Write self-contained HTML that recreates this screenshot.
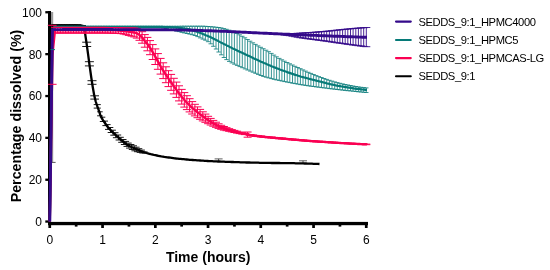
<!DOCTYPE html>
<html><head><meta charset="utf-8"><style>html,body{margin:0;padding:0;background:#fff;}svg{display:block;}</style></head><body>
<svg width="550" height="270" viewBox="0 0 550 270">
<rect width="550" height="270" fill="#fff"/>
<g fill="#000">
<rect x="48" y="11" width="3" height="214"/>
<rect x="48" y="221.9" width="320" height="3.3"/>
<rect x="45.3" y="220.4" width="3" height="2.3"/>
<rect x="45.3" y="178.6" width="3" height="2.3"/>
<rect x="45.3" y="136.7" width="3" height="2.3"/>
<rect x="45.3" y="94.9" width="3" height="2.3"/>
<rect x="45.3" y="53" width="3" height="2.3"/>
<rect x="45.3" y="11.1" width="3" height="2.3"/>
<rect x="48.4" y="224.6" width="2.7" height="3.4"/>
<rect x="74.8" y="224.6" width="2.7" height="2.0"/>
<rect x="101.2" y="224.6" width="2.7" height="3.4"/>
<rect x="127.6" y="224.6" width="2.7" height="2.0"/>
<rect x="154" y="224.6" width="2.7" height="3.4"/>
<rect x="180.3" y="224.6" width="2.7" height="2.0"/>
<rect x="206.7" y="224.6" width="2.7" height="3.4"/>
<rect x="233.1" y="224.6" width="2.7" height="2.0"/>
<rect x="259.4" y="224.6" width="2.7" height="3.4"/>
<rect x="285.8" y="224.6" width="2.7" height="2.0"/>
<rect x="312.2" y="224.6" width="2.7" height="3.4"/>
<rect x="338.6" y="224.6" width="2.7" height="2.0"/>
<rect x="364.9" y="224.6" width="2.7" height="3.4"/>
</g>
<path d="M52.1 12V162.4" stroke="#9a9a9a" stroke-width="2.2"/><path d="M50.2 162.4H55.6" stroke="#555" stroke-width="1"/>
<path d="M52.4 25.1V25.7M47.9 25.1H56.9M47.9 25.7H56.9M55.1 25.1V25.7M50.6 25.1H59.6M50.6 25.7H59.6M57.7 25.1V25.7M53.2 25.1H62.2M53.2 25.7H62.2M60.3 25.1V25.7M55.8 25.1H64.8M55.8 25.7H64.8M63 25.1V25.7M58.5 25.1H67.5M58.5 25.7H67.5M65.6 25.1V25.7M61.1 25.1H70.1M61.1 25.7H70.1M68.3 25.1V25.7M63.8 25.1H72.8M63.8 25.7H72.8M70.9 25.1V25.7M66.4 25.1H75.4M66.4 25.7H75.4M73.5 25.1V25.7M69 25.1H78M69 25.7H78M76.2 25.1V25.7M71.7 25.1H80.7M71.7 25.7H80.7M78.8 25.1V25.7M74.3 25.1H83.3M74.3 25.7H83.3M81.5 25.5V26.1M77 25.5H86M77 26.1H86M84.1 28.9V29.6M79.6 28.9H88.6M79.6 29.6H88.6M86.7 42.2V46.5M82.2 42.2H91.2M82.2 46.5H91.2M89.4 61.7V65.9M84.9 61.7H93.9M84.9 65.9H93.9M92 80.7V84.3M87.5 80.7H96.5M87.5 84.3H96.5M94.6 95.8V99.1M90.3 95.8H99M90.3 99.1H99M97.3 104.6V108.1M93.7 104.6H100.8M93.7 108.1H100.8M99.9 111.8V115.8M97.1 111.8H102.7M97.1 115.8H102.7M102.5 117.2V121.5M99.8 117.2H105.3M99.8 121.5H105.3M105.2 121.1V125.6M102.4 121.1H108M102.4 125.6H108M107.8 124.6V129.4M105 124.6H110.6M105 129.4H110.6M110.5 127.5V132.5M107.7 127.5H113.3M107.7 132.5H113.3M113.1 130.2V135.2M110.3 130.2H115.9M110.3 135.2H115.9M115.7 132.7V137.7M112.9 132.7H118.5M112.9 137.7H118.5M118.4 135V140M115.6 135H121.2M115.6 140H121.2M121 137.3V142.3M118.2 137.3H123.8M118.2 142.3H123.8M123.7 139.5V144.5M120.9 139.5H126.5M120.9 144.5H126.5M126.3 141.4V146.4M123.5 141.4H129.1M123.5 146.4H129.1M128.9 143.1V148.1M126.1 143.1H131.7M126.1 148.1H131.7M131.6 144.5V149.5M128.8 144.5H134.4M128.8 149.5H134.4M134.2 145.8V150.8M131.4 145.8H137M131.4 150.8H137M136.8 147.2V151.7M134 147.2H139.6M134 151.7H139.6M139.5 148.7V152.4M136.7 148.7H142.3M136.7 152.4H142.3M142.1 150.1V153M139.3 150.1H144.9M139.3 153H144.9M144.8 151.9V153M141.9 151.9H147.6M141.9 153H147.6" stroke="#000" stroke-width="0.9" fill="none"/>
<path d="M218.6 158.9V161.5M214.6 158.9H222.6M303 160.8V163.4M299 160.8H307" stroke="#000" stroke-width="0.9" opacity="0.7" fill="none"/>
<path d="M49.8 221.6 L52.4 25.4 L53.9 25.4 L55.4 25.4 L56.9 25.4 L58.4 25.4 L59.9 25.4 L61.4 25.4 L62.8 25.4 L64.3 25.4 L65.8 25.4 L67.3 25.4 L68.8 25.4 L70.3 25.4 L71.8 25.4 L73.3 25.4 L74.8 25.4 L76.3 25.4 L77.8 25.4 L79.3 25.4 L80.8 25.5 L82.2 26.2 L83.7 28.2 L85.2 34 L86.7 44.3 L88.2 55.1 L89.7 66.3 L91.2 77 L92.7 86.7 L94.2 95.3 L95.7 101.5 L97.2 106 L98.7 110.2 L100.1 114.4 L101.6 117.8 L103.1 120.3 L104.6 122.5 L106.1 124.7 L107.6 126.7 L109.1 128.5 L110.6 130.1 L112.1 131.7 L113.6 133.1 L115.1 134.5 L116.6 135.9 L118.1 137.2 L119.5 138.5 L121 139.9 L122.5 141.1 L124 142.3 L125.5 143.4 L127 144.4 L128.5 145.3 L130 146.2 L131.5 147 L133 147.7 L134.5 148.4 L136 149.1 L137.5 149.7 L138.9 150.3 L140.4 150.9 L141.9 151.5 L143.4 152 L144.9 152.5 L146.4 153 L147.9 153.4 L149.4 153.8 L150.9 154.2 L152.4 154.5 L153.9 154.9 L155.4 155.2 L156.9 155.5 L158.3 155.8 L159.8 156.1 L161.3 156.4 L162.8 156.6 L164.3 156.9 L165.8 157.1 L167.3 157.3 L168.8 157.5 L170.3 157.7 L171.8 157.9 L173.3 158.1 L174.8 158.3 L176.3 158.5 L177.7 158.6 L179.2 158.8 L180.7 158.9 L182.2 159.1 L183.7 159.2 L185.2 159.4 L186.7 159.5 L188.2 159.6 L189.7 159.8 L191.2 159.9 L192.7 160 L194.2 160.1 L195.6 160.2 L197.1 160.3 L198.6 160.4 L200.1 160.5 L201.6 160.6 L203.1 160.7 L204.6 160.8 L206.1 160.9 L207.6 161 L209.1 161.1 L210.6 161.1 L212.1 161.2 L213.6 161.3 L215 161.4 L216.5 161.4 L218 161.5 L219.5 161.5 L221 161.6 L222.5 161.7 L224 161.7 L225.5 161.8 L227 161.8 L228.5 161.9 L230 161.9 L231.5 162 L233 162 L234.4 162.1 L235.9 162.1 L237.4 162.2 L238.9 162.2 L240.4 162.3 L241.9 162.3 L243.4 162.4 L244.9 162.4 L246.4 162.5 L247.9 162.5 L249.4 162.5 L250.9 162.6 L252.4 162.6 L253.8 162.6 L255.3 162.7 L256.8 162.7 L258.3 162.7 L259.8 162.8 L261.3 162.8 L262.8 162.8 L264.3 162.9 L265.8 162.9 L267.3 162.9 L268.8 162.9 L270.3 162.9 L271.8 163 L273.2 163 L274.7 163 L276.2 163 L277.7 163 L279.2 163 L280.7 163.1 L282.2 163.1 L283.7 163.1 L285.2 163.1 L286.7 163.1 L288.2 163.1 L289.7 163.2 L291.1 163.2 L292.6 163.2 L294.1 163.2 L295.6 163.3 L297.1 163.3 L298.6 163.3 L300.1 163.4 L301.6 163.4 L303.1 163.4 L304.6 163.5 L306.1 163.5 L307.6 163.6 L309.1 163.6 L310.5 163.7 L312 163.7 L313.5 163.8 L315 163.8 L316.5 163.9 L318 163.9 L319.5 164" stroke="#000" stroke-width="2.3" fill="none" stroke-linejoin="round"/>
<path d="M55.1 26.3V27.5M52.9 26.3H57.3M52.9 27.5H57.3M57.7 26.3V27.5M55.5 26.3H59.9M55.5 27.5H59.9M60.3 26.3V27.5M58.1 26.3H62.5M58.1 27.5H62.5M63 26.3V27.5M60.8 26.3H65.2M60.8 27.5H65.2M65.6 26.3V27.5M63.4 26.3H67.8M63.4 27.5H67.8M68.3 26.3V27.5M66.1 26.3H70.5M66.1 27.5H70.5M70.9 26.3V27.5M68.7 26.3H73.1M68.7 27.5H73.1M73.5 26.3V27.5M71.3 26.3H75.7M71.3 27.5H75.7M76.2 26.3V27.5M74 26.3H78.4M74 27.5H78.4M78.8 26.3V27.5M76.6 26.3H81M76.6 27.5H81M81.5 26.3V27.5M79.2 26.3H83.7M79.2 27.5H83.7M84.1 26.3V27.5M81.9 26.3H86.3M81.9 27.5H86.3M86.7 26.3V27.5M84.5 26.3H88.9M84.5 27.5H88.9M89.4 26.3V27.5M87.2 26.3H91.6M87.2 27.5H91.6M92 26.3V27.5M89.8 26.3H94.2M89.8 27.5H94.2M94.6 26.3V27.5M92.4 26.3H96.8M92.4 27.5H96.8M97.3 26.3V27.5M95.1 26.3H99.5M95.1 27.5H99.5M99.9 26.3V27.5M97.7 26.3H102.1M97.7 27.5H102.1M102.5 26.3V27.5M100.3 26.3H104.8M100.3 27.5H104.8M105.2 26.3V27.5M103 26.3H107.4M103 27.5H107.4M107.8 26.3V27.5M105.6 26.3H110M105.6 27.5H110M110.5 26.3V27.5M108.3 26.3H112.7M108.3 27.5H112.7M113.1 26.3V27.5M110.9 26.3H115.3M110.9 27.5H115.3M115.7 26.3V27.5M113.5 26.3H117.9M113.5 27.5H117.9M118.4 26.3V27.5M116.2 26.3H120.6M116.2 27.5H120.6M121 26.3V27.5M118.8 26.3H123.2M118.8 27.5H123.2M123.7 26.3V27.5M121.5 26.3H125.9M121.5 27.5H125.9M126.3 26.3V27.5M124.1 26.3H128.5M124.1 27.5H128.5M128.9 26.3V27.5M126.7 26.3H131.1M126.7 27.5H131.1M131.6 26.3V27.5M129.4 26.3H133.8M129.4 27.5H133.8M134.2 26.3V27.5M132 26.3H136.4M132 27.5H136.4M136.8 26.3V27.6M134.6 26.3H139M134.6 27.6H139M139.5 26.3V27.6M137.3 26.3H141.7M137.3 27.6H141.7M142.1 26.3V27.6M139.9 26.3H144.3M139.9 27.6H144.3M144.8 26.3V27.6M142.6 26.3H146.9M142.6 27.6H146.9M147.4 26.3V27.6M145.2 26.3H149.6M145.2 27.6H149.6M150 26.3V27.6M147.8 26.3H152.2M147.8 27.6H152.2M152.7 26.3V27.6M150.5 26.3H154.9M150.5 27.6H154.9M155.3 26.3V27.6M153.1 26.3H157.5M153.1 27.6H157.5M157.9 26.3V27.6M155.7 26.3H160.1M155.7 27.6H160.1M160.6 26.3V27.6M158.4 26.3H162.8M158.4 27.6H162.8M163.2 26.3V27.9M161 26.3H165.4M161 27.9H165.4M165.9 26.3V28.5M163.7 26.3H168.1M163.7 28.5H168.1M168.5 26.3V29.2M166.3 26.3H170.7M166.3 29.2H170.7M171.1 26.3V29.7M168.9 26.3H173.3M168.9 29.7H173.3M173.8 26.3V30.3M171.6 26.3H176M171.6 30.3H176M176.4 26.3V31M174.2 26.3H178.6M174.2 31H178.6M179 26.3V31.6M176.8 26.3H181.2M176.8 31.6H181.2M181.7 26.2V32.3M179.5 26.2H183.9M179.5 32.3H183.9M184.3 26.2V32.9M182.1 26.2H186.5M182.1 32.9H186.5M186.9 26.2V33.5M184.8 26.2H189.1M184.8 33.5H189.1M189.6 26.2V34.1M187.4 26.2H191.8M187.4 34.1H191.8M192.2 26.2V34.7M190 26.2H194.4M190 34.7H194.4M194.9 26.2V35.5M192.7 26.2H197.1M192.7 35.5H197.1M197.5 26.2V36.6M195.3 26.2H199.7M195.3 36.6H199.7M200.1 26.2V37.9M197.9 26.2H202.3M197.9 37.9H202.3M202.8 26.2V39.1M200.6 26.2H205M200.6 39.1H205M205.4 26.3V40.2M203.2 26.3H207.6M203.2 40.2H207.6M208.1 26.5V41.7M205.9 26.5H210.2M205.9 41.7H210.2M210.7 26.7V43.8M208.5 26.7H212.9M208.5 43.8H212.9M213.3 26.9V46.3M211.1 26.9H215.5M211.1 46.3H215.5M216 27.2V49M213.8 27.2H218.2M213.8 49H218.2M218.6 27.5V52M216.4 27.5H220.8M216.4 52H220.8M221.2 27.9V54.8M219 27.9H223.4M219 54.8H223.4M223.9 28.6V57.5M221.7 28.6H226.1M221.7 57.5H226.1M226.5 29.3V59.6M224.3 29.3H228.7M224.3 59.6H228.7M229.2 30.2V61.4M227 30.2H231.4M227 61.4H231.4M231.8 31.2V62.9M229.6 31.2H234M229.6 62.9H234M234.4 32.3V64.2M232.2 32.3H236.6M232.2 64.2H236.6M237.1 33.5V65.4M234.9 33.5H239.3M234.9 65.4H239.3M239.7 34.8V66.6M237.5 34.8H241.9M237.5 66.6H241.9M242.3 36.3V67.7M240.1 36.3H244.5M240.1 67.7H244.5M245 37.8V68.9M242.8 37.8H247.2M242.8 68.9H247.2M247.6 39.5V70M245.4 39.5H249.8M245.4 70H249.8M250.2 41.2V71.1M248.1 41.2H252.4M248.1 71.1H252.4M252.9 42.8V72.2M250.7 42.8H255.1M250.7 72.2H255.1M255.5 44.4V73.3M253.3 44.4H257.7M253.3 73.3H257.7M258.2 45.9V74.4M256 45.9H260.4M256 74.4H260.4M260.8 47.3V75.5M258.6 47.3H263M258.6 75.5H263M263.4 48.7V76.4M261.2 48.7H265.6M261.2 76.4H265.6M266.1 50.2V77.2M263.9 50.2H268.3M263.9 77.2H268.3M268.7 51.7V77.9M266.5 51.7H270.9M266.5 77.9H270.9M271.4 53.4V78.6M269.2 53.4H273.6M269.2 78.6H273.6M274 55.1V79.3M271.8 55.1H276.2M271.8 79.3H276.2M276.6 56.8V79.9M274.4 56.8H278.8M274.4 79.9H278.8M279.3 58.4V80.4M277.1 58.4H281.5M277.1 80.4H281.5M281.9 59.8V81M279.7 59.8H284.1M279.7 81H284.1M284.5 61.2V81.6M282.3 61.2H286.7M282.3 81.6H286.7M287.2 62.5V82.1M285 62.5H289.4M285 82.1H289.4M289.8 63.8V82.6M287.6 63.8H292M287.6 82.6H292M292.5 65V83.2M290.3 65H294.7M290.3 83.2H294.7M295.1 66.3V83.6M292.9 66.3H297.3M292.9 83.6H297.3M297.7 67.5V84.1M295.5 67.5H299.9M295.5 84.1H299.9M300.4 68.7V84.6M298.2 68.7H302.6M298.2 84.6H302.6M303 69.9V85M300.8 69.9H305.2M300.8 85H305.2M305.6 71.1V85.4M303.4 71.1H307.8M303.4 85.4H307.8M308.3 72.3V85.8M306.1 72.3H310.5M306.1 85.8H310.5M310.9 73.4V86.2M308.7 73.4H313.1M308.7 86.2H313.1M313.6 74.5V86.5M311.4 74.5H315.8M311.4 86.5H315.8M316.2 75.6V86.9M314 75.6H318.4M314 86.9H318.4M318.8 76.6V87.2M316.6 76.6H321M316.6 87.2H321M321.5 77.5V87.6M319.3 77.5H323.7M319.3 87.6H323.7M324.1 78.5V87.9M321.9 78.5H326.3M321.9 87.9H326.3M326.7 79.4V88.2M324.5 79.4H328.9M324.5 88.2H328.9M329.4 80.3V88.6M327.2 80.3H331.6M327.2 88.6H331.6M332 81.1V88.9M329.8 81.1H334.2M329.8 88.9H334.2M334.7 81.9V89.2M332.5 81.9H336.9M332.5 89.2H336.9M337.3 82.6V89.5M335.1 82.6H339.5M335.1 89.5H339.5M339.9 83.3V89.8M337.7 83.3H342.1M337.7 89.8H342.1M342.6 83.9V90.1M340.4 83.9H344.8M340.4 90.1H344.8M345.2 84.5V90.4M343 84.5H347.4M343 90.4H347.4M347.8 85V90.7M345.6 85H350M345.6 90.7H350M350.5 85.5V90.9M348.3 85.5H352.7M348.3 90.9H352.7M353.1 86V91.2M350.9 86H355.3M350.9 91.2H355.3M355.8 86.5V91.5M353.6 86.5H358M353.6 91.5H358M358.4 86.9V91.8M356.2 86.9H360.6M356.2 91.8H360.6M361 87.3V92M358.8 87.3H363.2M358.8 92H363.2M363.7 87.6V92.3M361.5 87.6H365.9M361.5 92.3H365.9M366.3 87.9V92.5M364.1 87.9H368.5M364.1 92.5H368.5" stroke="#067a78" stroke-width="0.8" fill="none"/>
<path d="M49.8 221.6 L52.4 38 L55 26.9 L56.5 26.9 L58 26.9 L59.5 26.9 L61 26.9 L62.5 26.9 L64 26.9 L65.4 26.9 L66.9 26.9 L68.4 26.9 L69.9 26.9 L71.4 26.9 L72.9 26.9 L74.4 26.9 L75.9 26.9 L77.4 26.9 L78.9 26.9 L80.4 26.9 L81.9 26.9 L83.4 26.9 L84.9 26.9 L86.3 26.9 L87.8 26.9 L89.3 26.9 L90.8 26.9 L92.3 26.9 L93.8 26.9 L95.3 26.9 L96.8 26.9 L98.3 26.9 L99.8 26.9 L101.3 26.9 L102.8 26.9 L104.3 26.9 L105.8 26.9 L107.2 26.9 L108.7 26.9 L110.2 26.9 L111.7 26.9 L113.2 26.9 L114.7 26.9 L116.2 26.9 L117.7 26.9 L119.2 26.9 L120.7 26.9 L122.2 26.9 L123.7 26.9 L125.2 26.9 L126.7 26.9 L128.1 26.9 L129.6 26.9 L131.1 26.9 L132.6 26.9 L134.1 26.9 L135.6 26.9 L137.1 26.9 L138.6 26.9 L140.1 26.9 L141.6 26.9 L143.1 26.9 L144.6 26.9 L146.1 26.9 L147.6 26.9 L149 26.9 L150.5 26.9 L152 26.9 L153.5 26.9 L155 26.9 L156.5 26.9 L158 26.9 L159.5 26.9 L161 26.9 L162.5 26.9 L164 27 L165.5 27 L167 27.1 L168.5 27.1 L169.9 27.2 L171.4 27.3 L172.9 27.4 L174.4 27.5 L175.9 27.6 L177.4 27.7 L178.9 27.8 L180.4 28 L181.9 28.2 L183.4 28.4 L184.9 28.6 L186.4 28.8 L187.9 29.1 L189.4 29.4 L190.8 29.7 L192.3 30.1 L193.8 30.6 L195.3 31.1 L196.8 31.7 L198.3 32.2 L199.8 32.8 L201.3 33.3 L202.8 33.9 L204.3 34.5 L205.8 35.2 L207.3 35.8 L208.8 36.4 L210.3 37.1 L211.7 37.8 L213.2 38.5 L214.7 39.3 L216.2 40.1 L217.7 40.8 L219.2 41.6 L220.7 42.4 L222.2 43.1 L223.7 43.9 L225.2 44.6 L226.7 45.4 L228.2 46.1 L229.7 46.9 L231.2 47.6 L232.6 48.4 L234.1 49.1 L235.6 49.8 L237.1 50.5 L238.6 51.2 L240.1 51.9 L241.6 52.6 L243.1 53.3 L244.6 54 L246.1 54.7 L247.6 55.4 L249.1 56.1 L250.6 56.8 L252.1 57.5 L253.5 58.2 L255 58.9 L256.5 59.6 L258 60.3 L259.5 61 L261 61.7 L262.5 62.3 L264 63 L265.5 63.6 L267 64.3 L268.5 64.9 L270 65.5 L271.5 66.2 L273 66.8 L274.4 67.4 L275.9 67.9 L277.4 68.5 L278.9 69.1 L280.4 69.7 L281.9 70.2 L283.4 70.8 L284.9 71.3 L286.4 71.8 L287.9 72.4 L289.4 72.9 L290.9 73.4 L292.4 73.9 L293.9 74.4 L295.3 74.9 L296.8 75.3 L298.3 75.8 L299.8 76.2 L301.3 76.7 L302.8 77.1 L304.3 77.5 L305.8 77.9 L307.3 78.3 L308.8 78.7 L310.3 79.1 L311.8 79.5 L313.3 79.9 L314.8 80.2 L316.2 80.6 L317.7 81 L319.2 81.4 L320.7 81.7 L322.2 82.1 L323.7 82.5 L325.2 82.9 L326.7 83.3 L328.2 83.6 L329.7 84 L331.2 84.4 L332.7 84.7 L334.2 85 L335.7 85.4 L337.1 85.7 L338.6 86 L340.1 86.2 L341.6 86.5 L343.1 86.7 L344.6 87 L346.1 87.2 L347.6 87.5 L349.1 87.7 L350.6 87.9 L352.1 88.1 L353.6 88.4 L355.1 88.6 L356.6 88.8 L358 89 L359.5 89.1 L361 89.3 L362.5 89.5 L364 89.6 L365.5 89.8 L367 89.9" stroke="#067a78" stroke-width="2.2" fill="none" stroke-linejoin="round"/>
<path d="M55.1 27.4V33M51.1 27.4H59.1M51.1 33H59.1M57.7 27.4V33M53.7 27.4H61.7M53.7 33H61.7M60.3 27.4V33M56.3 27.4H64.3M56.3 33H64.3M63 27.4V33M59 27.4H67M59 33H67M65.6 27.4V33M61.6 27.4H69.6M61.6 33H69.6M68.3 27.4V33M64.3 27.4H72.3M64.3 33H72.3M70.9 27.4V33M66.9 27.4H74.9M66.9 33H74.9M73.5 27.4V33M69.5 27.4H77.5M69.5 33H77.5M76.2 27.4V33M72.2 27.4H80.2M72.2 33H80.2M78.8 27.4V33M74.8 27.4H82.8M74.8 33H82.8M81.5 27.4V33M77.5 27.4H85.5M77.5 33H85.5M84.1 27.4V33M80.1 27.4H88.1M80.1 33H88.1M86.7 27.4V33M82.7 27.4H90.7M82.7 33H90.7M89.4 27.4V33M85.4 27.4H93.4M85.4 33H93.4M92 27.4V33M88 27.4H96M88 33H96M94.6 27.4V33M90.6 27.4H98.6M90.6 33H98.6M97.3 27.4V33M93.3 27.4H101.3M93.3 33H101.3M99.9 27.4V33M95.9 27.4H103.9M95.9 33H103.9M102.5 27.4V33M98.5 27.4H106.5M98.5 33H106.5M105.2 27.4V33M101.2 27.4H109.2M101.2 33H109.2M107.8 27.5V33.1M103.8 27.5H111.8M103.8 33.1H111.8M110.5 27.5V33.1M106.5 27.5H114.5M106.5 33.1H114.5M113.1 27.6V33.2M109.1 27.6H117.1M109.1 33.2H117.1M115.7 27.6V33.2M111.7 27.6H119.7M111.7 33.2H119.7M118.4 27.7V33.3M114.4 27.7H122.4M114.4 33.3H122.4M121 27.8V33.6M117 27.8H125M117 33.6H125M123.7 28V34M119.7 28H127.7M119.7 34H127.7M126.3 28.1V34.7M122.3 28.1H130.3M122.3 34.7H130.3M128.9 28.1V35.4M124.9 28.1H132.9M124.9 35.4H132.9M131.6 28V36.1M127.6 28H135.6M127.6 36.1H135.6M134.2 28V36.9M130.2 28H138.2M130.2 36.9H138.2M136.8 28.4V38.1M132.8 28.4H140.8M132.8 38.1H140.8M139.5 29.7V40.3M135.5 29.7H143.5M135.5 40.3H143.5M142.1 31.7V43.2M138.1 31.7H146.1M138.1 43.2H146.1M144.8 34.6V47.2M140.8 34.6H148.8M140.8 47.2H148.8M147.4 37.4V50.8M143.4 37.4H151.4M143.4 50.8H151.4M150 40.6V54.7M146 40.6H154M146 54.7H154M152.7 44.6V59.5M148.7 44.6H156.7M148.7 59.5H156.7M155.3 48.9V64.5M151.3 48.9H159.3M151.3 64.5H159.3M157.9 53.6V69.3M153.9 53.6H161.9M153.9 69.3H161.9M160.6 58.4V74.1M156.6 58.4H164.6M156.6 74.1H164.6M163.2 62.8V78.6M159.2 62.8H167.2M159.2 78.6H167.2M165.9 66.8V82.7M161.9 66.8H169.9M161.9 82.7H169.9M168.5 70.7V86.6M164.5 70.7H172.5M164.5 86.6H172.5M171.1 74.4V90.3M167.1 74.4H175.1M167.1 90.3H175.1M173.8 78.3V93.9M169.8 78.3H177.8M169.8 93.9H177.8M176.4 82.1V97.4M172.4 82.1H180.4M172.4 97.4H180.4M179 85.8V100.9M175 85.8H183M175 100.9H183M181.7 89.4V104.1M177.7 89.4H185.7M177.7 104.1H185.7M184.3 92.6V107.1M180.3 92.6H188.3M180.3 107.1H188.3M186.9 95.7V109.6M182.9 95.7H190.9M182.9 109.6H190.9M189.6 98.7V111.9M185.6 98.7H193.6M185.6 111.9H193.6M192.2 101.6V114M188.2 101.6H196.2M188.2 114H196.2M194.9 104.3V115.9M190.9 104.3H198.9M190.9 115.9H198.9M197.5 106.9V117.7M193.5 106.9H201.5M193.5 117.7H201.5M200.1 109.4V119.3M196.1 109.4H204.1M196.1 119.3H204.1M202.8 111.8V120.9M198.8 111.8H206.8M198.8 120.9H206.8M205.4 114.1V122.3M201.4 114.1H209.4M201.4 122.3H209.4M208.1 116.3V123.7M204.1 116.3H212.1M204.1 123.7H212.1M210.7 118.4V125M206.7 118.4H214.7M206.7 125H214.7M213.3 120.4V126.2M209.3 120.4H217.3M209.3 126.2H217.3M216 122.2V127.3M212 122.2H220M212 127.3H220M218.6 123.8V128.4M214.6 123.8H222.6M214.6 128.4H222.6M221.2 125.3V129.3M217.2 125.3H225.2M217.2 129.3H225.2M223.9 126.5V130.1M219.9 126.5H227.9M219.9 130.1H227.9M226.5 127.7V130.7M222.5 127.7H230.5M222.5 130.7H230.5M229.2 128.7V131.3M225.2 128.7H233.2M225.2 131.3H233.2M231.8 129.6V131.9M227.8 129.6H235.8M227.8 131.9H235.8M234.4 130.4V132.5M230.4 130.4H238.4M230.4 132.5H238.4M237.1 131.2V133.1M233.1 131.2H241.1M233.1 133.1H241.1M239.7 132V133.6M235.7 132H243.7M235.7 133.6H243.7M242.3 132.7V134.1M238.3 132.7H246.3M238.3 134.1H246.3M245 133.4V134.6M241 133.4H249M241 134.6H249M247.6 132V137.2M243.6 132H251.6M243.6 137.2H251.6M250.2 134.5V135.6M246.2 134.5H254.2M246.2 135.6H254.2M252.9 135V135.9M248.9 135H256.9M248.9 135.9H256.9M255.5 135.4V136.3M251.5 135.4H259.5M251.5 136.3H259.5M258.2 135.7V136.6M254.2 135.7H262.2M254.2 136.6H262.2M260.8 136.1V136.9M256.8 136.1H264.8M256.8 136.9H264.8M263.4 136.4V137.2M259.4 136.4H267.4M259.4 137.2H267.4M266.1 136.6V137.4M262.1 136.6H270.1M262.1 137.4H270.1M268.7 136.9V137.7M264.7 136.9H272.7M264.7 137.7H272.7M271.4 137.2V137.9M267.4 137.2H275.4M267.4 137.9H275.4M274 137.4V138.2M270 137.4H278M270 138.2H278M276.6 137.6V138.4M272.6 137.6H280.6M272.6 138.4H280.6M279.3 137.9V138.7M275.3 137.9H283.3M275.3 138.7H283.3M281.9 138.1V138.9M277.9 138.1H285.9M277.9 138.9H285.9M284.5 138.4V139.1M280.5 138.4H288.5M280.5 139.1H288.5M287.2 138.6V139.4M283.2 138.6H291.2M283.2 139.4H291.2M289.8 138.9V139.6M285.8 138.9H293.8M285.8 139.6H293.8M292.5 139.1V139.8M288.5 139.1H296.5M288.5 139.8H296.5M295.1 139.3V140.1M291.1 139.3H299.1M291.1 140.1H299.1M297.7 139.6V140.3M293.7 139.6H301.7M293.7 140.3H301.7M300.4 139.8V140.5M296.4 139.8H304.4M296.4 140.5H304.4M303 140V140.8M299 140H307M299 140.8H307M305.6 140.3V141M301.6 140.3H309.6M301.6 141H309.6M308.3 140.5V141.2M304.3 140.5H312.3M304.3 141.2H312.3M310.9 140.7V141.4M306.9 140.7H314.9M306.9 141.4H314.9M313.6 140.9V141.6M309.6 140.9H317.6M309.6 141.6H317.6M316.2 141.1V141.8M312.2 141.1H320.2M312.2 141.8H320.2M318.8 141.3V141.9M314.8 141.3H322.8M314.8 141.9H322.8M321.5 141.4V142.1M317.5 141.4H325.5M317.5 142.1H325.5M324.1 141.6V142.3M320.1 141.6H328.1M320.1 142.3H328.1M326.7 141.8V142.5M322.7 141.8H330.7M322.7 142.5H330.7M329.4 142V142.6M325.4 142H333.4M325.4 142.6H333.4M332 142.1V142.8M328 142.1H336M328 142.8H336M334.7 142.3V143M330.7 142.3H338.7M330.7 143H338.7M337.3 142.5V143.1M333.3 142.5H341.3M333.3 143.1H341.3M339.9 142.6V143.3M335.9 142.6H343.9M335.9 143.3H343.9M342.6 142.8V143.4M338.6 142.8H346.6M338.6 143.4H346.6M345.2 142.9V143.6M341.2 142.9H349.2M341.2 143.6H349.2M347.8 143.1V143.7M343.8 143.1H351.8M343.8 143.7H351.8M350.5 143.2V143.9M346.5 143.2H354.5M346.5 143.9H354.5M353.1 143.4V144M349.1 143.4H357.1M349.1 144H357.1M355.8 143.5V144.2M351.8 143.5H359.8M351.8 144.2H359.8M358.4 143.7V144.3M354.4 143.7H362.4M354.4 144.3H362.4M361 143.8V144.4M357 143.8H365M357 144.4H365M363.7 143.9V144.5M359.7 143.9H367.7M359.7 144.5H367.7M366.3 144.1V144.7M362.3 144.1H370.3M362.3 144.7H370.3" stroke="#fa0052" stroke-width="1.0" fill="none"/>
<path d="M49.8 221.6 L52.4 54.8 L55 30.2 L56.5 30.2 L58 30.2 L59.5 30.2 L61 30.2 L62.5 30.2 L64 30.2 L65.4 30.2 L66.9 30.2 L68.4 30.2 L69.9 30.2 L71.4 30.2 L72.9 30.2 L74.4 30.2 L75.9 30.2 L77.4 30.2 L78.9 30.2 L80.4 30.2 L81.9 30.2 L83.4 30.2 L84.9 30.2 L86.3 30.2 L87.8 30.2 L89.3 30.2 L90.8 30.2 L92.3 30.2 L93.8 30.2 L95.3 30.2 L96.8 30.2 L98.3 30.2 L99.8 30.2 L101.3 30.2 L102.8 30.2 L104.3 30.2 L105.8 30.2 L107.2 30.3 L108.7 30.3 L110.2 30.3 L111.7 30.3 L113.2 30.4 L114.7 30.4 L116.2 30.4 L117.7 30.5 L119.2 30.6 L120.7 30.7 L122.2 30.8 L123.7 31 L125.2 31.2 L126.7 31.4 L128.1 31.6 L129.6 31.8 L131.1 32 L132.6 32.2 L134.1 32.5 L135.6 32.8 L137.1 33.4 L138.6 34.4 L140.1 35.5 L141.6 36.9 L143.1 38.7 L144.6 40.7 L146.1 42.5 L147.6 44.3 L149 46.2 L150.5 48.4 L152 50.9 L153.5 53.5 L155 56.2 L156.5 58.9 L158 61.6 L159.5 64.3 L161 67 L162.5 69.5 L164 71.9 L165.5 74.2 L167 76.4 L168.5 78.6 L169.9 80.7 L171.4 82.8 L172.9 84.9 L174.4 87 L175.9 89.1 L177.4 91.1 L178.9 93.2 L180.4 95.1 L181.9 97 L183.4 98.8 L184.9 100.5 L186.4 102.1 L187.9 103.6 L189.4 105.1 L190.8 106.5 L192.3 107.9 L193.8 109.2 L195.3 110.5 L196.8 111.7 L198.3 112.9 L199.8 114.1 L201.3 115.2 L202.8 116.3 L204.3 117.4 L205.8 118.4 L207.3 119.5 L208.8 120.5 L210.3 121.4 L211.7 122.4 L213.2 123.3 L214.7 124.1 L216.2 124.9 L217.7 125.7 L219.2 126.4 L220.7 127.1 L222.2 127.7 L223.7 128.2 L225.2 128.7 L226.7 129.2 L228.2 129.7 L229.7 130.1 L231.2 130.6 L232.6 131 L234.1 131.4 L235.6 131.8 L237.1 132.2 L238.6 132.5 L240.1 132.9 L241.6 133.2 L243.1 133.6 L244.6 133.9 L246.1 134.2 L247.6 134.6 L249.1 134.8 L250.6 135.1 L252.1 135.3 L253.5 135.5 L255 135.8 L256.5 135.9 L258 136.1 L259.5 136.3 L261 136.5 L262.5 136.7 L264 136.8 L265.5 137 L267 137.1 L268.5 137.3 L270 137.4 L271.5 137.6 L273 137.7 L274.4 137.8 L275.9 138 L277.4 138.1 L278.9 138.2 L280.4 138.4 L281.9 138.5 L283.4 138.7 L284.9 138.8 L286.4 138.9 L287.9 139.1 L289.4 139.2 L290.9 139.3 L292.4 139.5 L293.9 139.6 L295.3 139.7 L296.8 139.9 L298.3 140 L299.8 140.1 L301.3 140.3 L302.8 140.4 L304.3 140.5 L305.8 140.6 L307.3 140.7 L308.8 140.9 L310.3 141 L311.8 141.1 L313.3 141.2 L314.8 141.3 L316.2 141.4 L317.7 141.5 L319.2 141.6 L320.7 141.7 L322.2 141.8 L323.7 141.9 L325.2 142 L326.7 142.1 L328.2 142.2 L329.7 142.3 L331.2 142.4 L332.7 142.5 L334.2 142.6 L335.7 142.7 L337.1 142.8 L338.6 142.9 L340.1 143 L341.6 143.1 L343.1 143.1 L344.6 143.2 L346.1 143.3 L347.6 143.4 L349.1 143.5 L350.6 143.6 L352.1 143.6 L353.6 143.7 L355.1 143.8 L356.6 143.9 L358 144 L359.5 144 L361 144.1 L362.5 144.2 L364 144.3 L365.5 144.3 L367 144.4" stroke="#fa0052" stroke-width="2.4" fill="none" stroke-linejoin="round"/>
<path d="M281.9 34.1V34.6M277.9 34.1H285.9M277.9 34.6H285.9M284.5 34.1V34.9M280.5 34.1H288.5M280.5 34.9H288.5M287.2 34V35.3M283.2 34H291.2M283.2 35.3H291.2M289.8 33.9V35.7M285.8 33.9H293.8M285.8 35.7H293.8M292.5 33.7V36.2M288.5 33.7H296.5M288.5 36.2H296.5M295.1 33.5V36.7M291.1 33.5H299.1M291.1 36.7H299.1M297.7 33.3V37.2M293.7 33.3H301.7M293.7 37.2H301.7M300.4 33.2V37.7M296.4 33.2H304.4M296.4 37.7H304.4M303 33V38M299 33H307M299 38H307M305.6 32.8V38.4M301.6 32.8H309.6M301.6 38.4H309.6M308.3 32.7V38.8M304.3 32.7H312.3M304.3 38.8H312.3M310.9 32.5V39.1M306.9 32.5H314.9M306.9 39.1H314.9M313.6 32.3V39.5M309.6 32.3H317.6M309.6 39.5H317.6M316.2 32.1V39.8M312.2 32.1H320.2M312.2 39.8H320.2M318.8 31.9V40.2M314.8 31.9H322.8M314.8 40.2H322.8M321.5 31.7V40.5M317.5 31.7H325.5M317.5 40.5H325.5M324.1 31.5V40.9M320.1 31.5H328.1M320.1 40.9H328.1M326.7 31.2V41.2M322.7 31.2H330.7M322.7 41.2H330.7M329.4 31V41.6M325.4 31H333.4M325.4 41.6H333.4M332 30.7V42M328 30.7H336M328 42H336M334.7 30.4V42.4M330.7 30.4H338.7M330.7 42.4H338.7M337.3 30.1V42.8M333.3 30.1H341.3M333.3 42.8H341.3M339.9 29.8V43.1M335.9 29.8H343.9M335.9 43.1H343.9M342.6 29.5V43.5M338.6 29.5H346.6M338.6 43.5H346.6M345.2 29.3V43.9M341.2 29.3H349.2M341.2 43.9H349.2M347.8 29V44.3M343.8 29H351.8M343.8 44.3H351.8M350.5 28.8V44.6M346.5 28.8H354.5M346.5 44.6H354.5M353.1 28.5V45M349.1 28.5H357.1M349.1 45H357.1M355.8 28.3V45.3M351.8 28.3H359.8M351.8 45.3H359.8M358.4 28.1V45.7M354.4 28.1H362.4M354.4 45.7H362.4M361 27.9V46M357 27.9H365M357 46H365M363.7 27.7V46.4M359.7 27.7H367.7M359.7 46.4H367.7M366.3 27.5V46.7M362.3 27.5H370.3M362.3 46.7H370.3" stroke="#340a8a" stroke-width="0.9" fill="none"/>
<path d="M49.8 221.6 L52.4 29.6 L53.9 29.6 L55.4 29.6 L56.9 29.6 L58.4 29.6 L59.9 29.6 L61.4 29.6 L62.9 29.5 L64.4 29.5 L65.9 29.5 L67.4 29.5 L68.9 29.5 L70.4 29.5 L71.9 29.5 L73.4 29.5 L74.9 29.5 L76.4 29.5 L77.9 29.5 L79.4 29.5 L80.9 29.5 L82.4 29.5 L83.9 29.5 L85.4 29.5 L86.9 29.5 L88.4 29.5 L89.9 29.5 L91.4 29.5 L92.8 29.5 L94.3 29.5 L95.8 29.5 L97.3 29.5 L98.8 29.5 L100.3 29.5 L101.8 29.5 L103.3 29.5 L104.8 29.5 L106.3 29.5 L107.8 29.5 L109.3 29.5 L110.8 29.5 L112.3 29.5 L113.8 29.6 L115.3 29.6 L116.8 29.6 L118.3 29.6 L119.8 29.6 L121.3 29.6 L122.8 29.6 L124.3 29.6 L125.8 29.6 L127.3 29.6 L128.8 29.6 L130.3 29.6 L131.8 29.6 L133.3 29.6 L134.8 29.6 L136.3 29.6 L137.8 29.6 L139.3 29.6 L140.8 29.7 L142.3 29.7 L143.8 29.7 L145.3 29.7 L146.8 29.7 L148.3 29.7 L149.8 29.7 L151.3 29.7 L152.8 29.7 L154.3 29.7 L155.8 29.7 L157.3 29.7 L158.8 29.8 L160.3 29.8 L161.8 29.8 L163.3 29.8 L164.8 29.8 L166.3 29.8 L167.8 29.9 L169.3 29.9 L170.7 29.9 L172.2 29.9 L173.7 29.9 L175.2 30 L176.7 30 L178.2 30 L179.7 30 L181.2 30 L182.7 30.1 L184.2 30.1 L185.7 30.1 L187.2 30.1 L188.7 30.2 L190.2 30.2 L191.7 30.2 L193.2 30.3 L194.7 30.3 L196.2 30.3 L197.7 30.4 L199.2 30.4 L200.7 30.5 L202.2 30.5 L203.7 30.6 L205.2 30.6 L206.7 30.7 L208.2 30.7 L209.7 30.8 L211.2 30.8 L212.7 30.9 L214.2 31 L215.7 31 L217.2 31.1 L218.7 31.1 L220.2 31.2 L221.7 31.3 L223.2 31.3 L224.7 31.4 L226.2 31.4 L227.7 31.5 L229.2 31.6 L230.7 31.6 L232.2 31.7 L233.7 31.8 L235.2 31.8 L236.7 31.9 L238.2 32 L239.7 32 L241.2 32.1 L242.7 32.2 L244.2 32.2 L245.7 32.3 L247.2 32.4 L248.7 32.5 L250.1 32.5 L251.6 32.6 L253.1 32.7 L254.6 32.8 L256.1 32.8 L257.6 32.9 L259.1 33 L260.6 33.1 L262.1 33.1 L263.6 33.2 L265.1 33.3 L266.6 33.3 L268.1 33.4 L269.6 33.5 L271.1 33.5 L272.6 33.6 L274.1 33.7 L275.6 33.7 L277.1 33.8 L278.6 33.9 L280.1 33.9 L281.6 34 L283.1 34.1 L284.6 34.1 L286.1 34.2 L287.6 34.3 L289.1 34.3 L290.6 34.4 L292.1 34.5 L293.6 34.5 L295.1 34.6 L296.6 34.6 L298.1 34.7 L299.6 34.8 L301.1 34.8 L302.6 34.9 L304.1 35 L305.6 35 L307.1 35.1 L308.6 35.1 L310.1 35.2 L311.6 35.3 L313.1 35.3 L314.6 35.4 L316.1 35.4 L317.6 35.5 L319.1 35.6 L320.6 35.6 L322.1 35.7 L323.6 35.7 L325.1 35.8 L326.6 35.9 L328 35.9 L329.5 36 L331 36 L332.5 36.1 L334 36.2 L335.5 36.2 L337 36.3 L338.5 36.3 L340 36.4 L341.5 36.4 L343 36.5 L344.5 36.5 L346 36.6 L347.5 36.7 L349 36.7 L350.5 36.8 L352 36.8 L353.5 36.9 L355 36.9 L356.5 37 L358 37 L359.5 37.1 L361 37.1 L362.5 37.2 L364 37.2 L365.5 37.3 L367 37.3" stroke="#340a8a" stroke-width="2.9" fill="none" stroke-linejoin="round"/>
<path d="M48 84.3H56.6M48 25.3H56.6" stroke="#fa0052" stroke-width="1"/>
<path d="M50.5 49.6H55" stroke="#067a78" stroke-width="1"/>
<g font-family="Liberation Sans, Arial, sans-serif" font-size="12" fill="#000">
<text x="42" y="225.9" text-anchor="end">0</text>
<text x="42" y="184" text-anchor="end">20</text>
<text x="42" y="142.2" text-anchor="end">40</text>
<text x="42" y="100.3" text-anchor="end">60</text>
<text x="42" y="58.5" text-anchor="end">80</text>
<text x="42" y="16.6" text-anchor="end">100</text>
<text x="49.8" y="243.8" text-anchor="middle">0</text>
<text x="102.5" y="243.8" text-anchor="middle">1</text>
<text x="155.3" y="243.8" text-anchor="middle">2</text>
<text x="208.1" y="243.8" text-anchor="middle">3</text>
<text x="260.8" y="243.8" text-anchor="middle">4</text>
<text x="313.6" y="243.8" text-anchor="middle">5</text>
<text x="366.3" y="243.8" text-anchor="middle">6</text>
</g>
<text x="208.2" y="262.3" text-anchor="middle" font-family="Liberation Sans, Arial, sans-serif" font-size="14" font-weight="bold">Time (hours)</text>
<text transform="translate(20.6 116) rotate(-90)" text-anchor="middle" font-family="Liberation Sans, Arial, sans-serif" font-size="14.25" font-weight="bold">Percentage dissolved (%)</text>
<path d="M396 21.6H410.8" stroke="#340a8a" stroke-width="2.1" stroke-linecap="round"/>
<text x="418.4" y="25.7" font-family="Liberation Sans, Arial, sans-serif" font-size="11.2" letter-spacing="-0.4">SEDDS_9:1_HPMC4000</text>
<path d="M396 40H410.8" stroke="#067a78" stroke-width="2.1" stroke-linecap="round"/>
<text x="418.4" y="44.1" font-family="Liberation Sans, Arial, sans-serif" font-size="11.2" letter-spacing="-0.4">SEDDS_9:1_HPMC5</text>
<path d="M396 58.1H410.8" stroke="#fa0052" stroke-width="2.1" stroke-linecap="round"/>
<text x="418.4" y="62.2" font-family="Liberation Sans, Arial, sans-serif" font-size="11.2" letter-spacing="-0.4">SEDDS_9:1_HPMCAS-LG</text>
<path d="M396 76.3H410.8" stroke="#000" stroke-width="2.1" stroke-linecap="round"/>
<text x="418.4" y="80.4" font-family="Liberation Sans, Arial, sans-serif" font-size="11.2" letter-spacing="-0.4">SEDDS_9:1</text>
</svg>
</body></html>
